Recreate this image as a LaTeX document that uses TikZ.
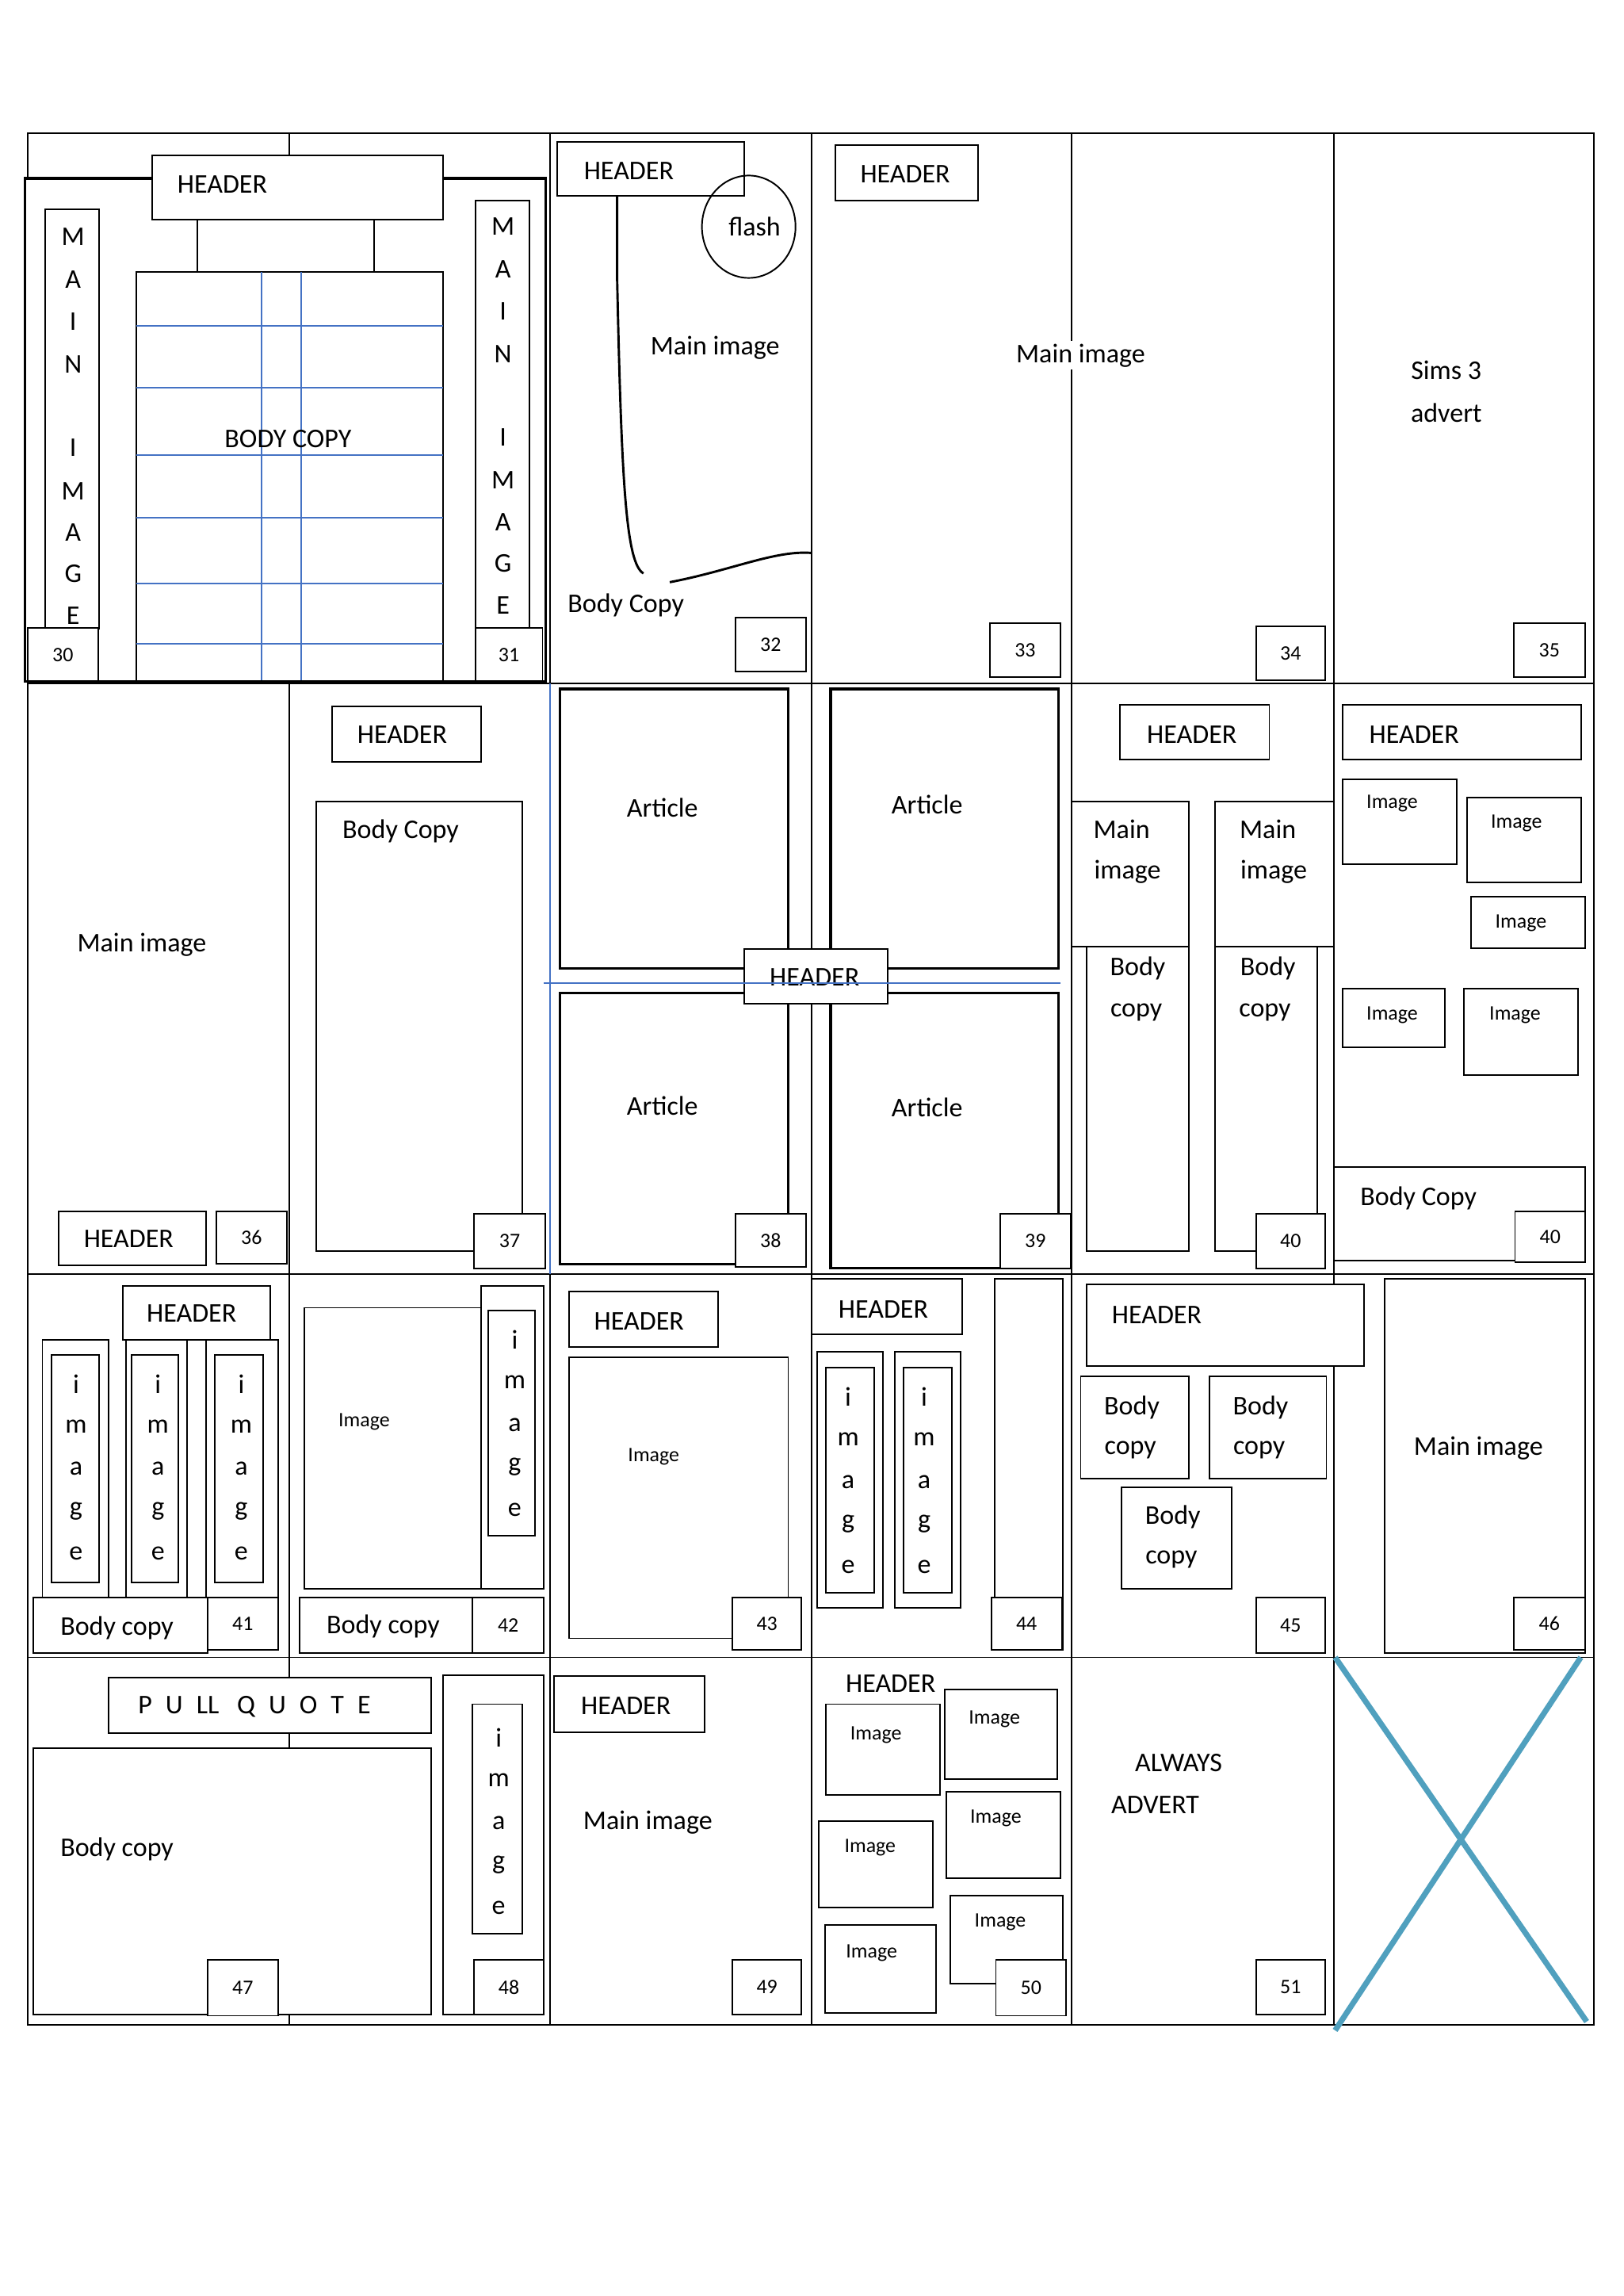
\documentclass[tikz,border=0pt]{standalone}
\usepackage{fontspec}
\setmainfont{Carlito}
\definecolor{xcol}{RGB}{80,160,190}
\definecolor{lcol}{RGB}{68,114,196}
\newcommand\mybox[4]{\draw[fill=white] (#1,#2) rectangle (#3,#4);}
\newcommand\mytxt[3]{\node[txt] at (#1,#2) {#3};}
\newcommand\mysm[3]{\node[sm] at (#1,#2) {#3};}
\newcommand\mynum[5]{\draw[fill=white] (#1,#2) rectangle (#3,#4); \node[sm] at ({(#1+#3)/2},{(#2+#4)/2}) {#5};}
\begin{document}
\begin{tikzpicture}[x=0.02cm,y=-0.02cm,line width=0.6pt,
 txt/.style={font=\fontsize{10.5}{12}\selectfont,inner sep=0pt},
 sm/.style={font=\fontsize{8}{9}\selectfont,inner sep=0pt},
 bl/.style={draw=lcol,line width=0.6pt}]
\useasboundingbox[fill=white] (0,0) rectangle (1110,1569.6);
% grid
\draw (19,91) rectangle (1090,1384);
\foreach \x in {198,376,555,733,912} {\draw (\x,91) -- (\x,1384);}
\foreach \y in {467,871,1133} {\draw (19,\y) -- (1090,\y);}
% ---- page 30-31
\draw[line width=1pt,fill=white] (17,122) rectangle (373,466);
\mybox{104}{106}{303}{150}\mytxt{152}{126}{HEADER}
\draw (135,150)--(135,186) (256,150)--(256,186);
\mybox{93}{186}{303}{466}
\foreach \y in {223,265,311,354,399,440} {\draw[bl] (93,\y)--(303,\y);}
\draw[bl] (179,186)--(179,466) (206,186)--(206,466);
\mytxt{197}{300}{BODY COPY}
\mybox{31}{143}{68}{430}
\foreach \l/\y in {M/162,A/191,I/220,N/249,I/306,M/336,A/364,G/392,E/421} {\mytxt{50}{\y}{\l}}
\mybox{325}{137}{362}{430}
\foreach \l/\y in {M/155,A/184,I/213,N/242,I/299,M/328,A/357,G/385,E/414} {\mytxt{344}{\y}{\l}}
\mynum{19}{429}{67}{466}{30}
\mynum{325}{429}{371}{466}{31}
\draw[line width=1pt] (17,150) -- (17,466) -- (373,466) -- (373,150);
% ---- page 32
\mybox{381}{97}{509}{134}\mytxt{430}{117}{HEADER}
\draw (512,155) ellipse [x radius=32,y radius=35];
\mytxt{516}{155}{flash}
\draw[line width=0.9pt] (422,134) -- (422,190) .. controls (425,330) and (428,385) .. (440,392);
\draw[line width=0.9pt] (458,398) .. controls (500,390) and (530,376) .. (555,378);
\mytxt{489}{238}{Main image}
\mytxt{428}{414}{Body Copy}
\mynum{503}{422}{551}{459}{32}
% ---- 33-35
\mybox{571}{99}{669}{137}\mytxt{619}{119}{HEADER}
\node[txt,fill=white,inner sep=1pt] at (739,243) {Main image};
\mynum{677}{426}{725}{463}{33}
\mynum{859}{428}{906}{465}{34}
\mytxt{989}{253}{Sims 3}\mytxt{989}{282}{advert}
\mynum{1035}{426}{1084}{463}{35}
% ---- row 2
\mytxt{97}{646}{Main image}
\mybox{40}{828}{141}{865}\mytxt{88}{847}{HEADER}
\mynum{148}{828}{196}{864}{36}
\mybox{227}{483}{329}{521}\mytxt{275}{502}{HEADER}
\mybox{216}{548}{357}{855}\mytxt{274}{568}{Body Copy}
\mynum{324}{830}{373}{867}{37}
\draw[line width=1pt,fill=white] (383,471) rectangle (539,662) (568,471) rectangle (724,662)
 (383,679) rectangle (539,864) (568,679) rectangle (724,867);
\mytxt{453}{552}{Article}\mytxt{634}{550}{Article}
\mytxt{453}{756}{Article}\mytxt{634}{757}{Article}
\mybox{509}{649}{607}{686}\mytxt{557}{668}{HEADER}
\draw[bl] (376,467)--(376,871) (372,672)--(725,672);
\mynum{503}{830}{551}{866}{38}
\mynum{684}{830}{732}{867}{39}
\mybox{766}{482}{868}{519}\mytxt{815}{502}{HEADER}
\mybox{733}{548}{813}{647}\mybox{831}{548}{912}{647}
\mytxt{767}{567}{Main}\mytxt{771}{596}{image}
\mytxt{867}{567}{Main}\mytxt{871}{596}{image}
\mybox{743}{647}{813}{855}\mybox{831}{647}{901}{855}
\mytxt{778}{662}{Body}\mytxt{777}{692}{copy}
\mytxt{867}{662}{Body}\mytxt{865}{692}{copy}
\mynum{859}{830}{906}{867}{40}
\mybox{918}{482}{1081}{519}\mytxt{967}{502}{HEADER}
\mybox{918}{533}{996}{591}\mysm{952}{549}{Image}
\mybox{1003}{545}{1081}{603}\mysm{1037}{563}{Image}
\mybox{1006}{613}{1084}{648}\mysm{1040}{631}{Image}
\mybox{918}{676}{988}{716}\mysm{952}{694}{Image}
\mybox{1001}{676}{1079}{735}\mysm{1036}{694}{Image}
\mybox{912}{798}{1084}{862}\mytxt{970}{819}{Body Copy}
\mynum{1036}{828}{1084}{863}{40}
% ---- row 3
\mybox{84}{879}{185}{916}\mytxt{131}{898}{HEADER}
\foreach \a/\b/\c/\d/\m in {29/35/68/74/52,86/90/122/128/108,141/147/180/190/165}{
 \draw[fill=white] (\a,916) rectangle (\d,1092) (\b,926) rectangle (\c,1082);
 \foreach \l/\y in {i/946,m/975,a/1004,g/1033,e/1062} {\mytxt{\m}{\y}{\l}}}
\mybox{23}{1092}{142}{1130}\mytxt{80}{1113}{Body copy}
\mynum{142}{1092}{190}{1128}{41}
\mybox{208}{894}{329}{1086}\mysm{249}{972}{Image}
\mybox{329}{879}{372}{1086}\mybox{334}{896}{366}{1050}
\foreach \l/\y in {i/916,m/945,a/974,g/1003,e/1032} {\mytxt{352}{\y}{\l}}
\mybox{205}{1092}{323}{1130}\mytxt{262}{1112}{Body copy}
\mynum{323}{1092}{372}{1130}{42}
\mybox{389}{883}{491}{921}\mytxt{437}{903}{HEADER}
\mybox{389}{928}{539}{1120}\mysm{447}{996}{Image}
\mynum{501}{1092}{548}{1128}{43}
\mybox{555}{874}{658}{912}\mytxt{604}{895}{HEADER}
\foreach \a/\b/\c/\d/\m in {559/565/598/604/580,612/618/651/657/632}{
 \draw[fill=white] (\a,924) rectangle (\d,1099) (\b,935) rectangle (\c,1089);
 \foreach \l/\y in {i/955,m/984,a/1013,g/1042,e/1071} {\mytxt{\m}{\y}{\l}}}
\mybox{680}{874}{727}{1128}
\mynum{678}{1092}{726}{1128}{44}
\mybox{743}{878}{933}{934}\mytxt{791}{899}{HEADER}
\mybox{739}{941}{813}{1011}\mytxt{774}{962}{Body}\mytxt{773}{991}{copy}
\mybox{827}{941}{907}{1011}\mytxt{862}{962}{Body}\mytxt{861}{991}{copy}
\mybox{767}{1017}{842}{1086}\mytxt{802}{1037}{Body}\mytxt{801}{1066}{copy}
\mynum{859}{1092}{906}{1130}{45}
\mybox{947}{874}{1084}{1130}\mytxt{1011}{990}{Main image}
\mynum{1035}{1092}{1084}{1128}{46}
% ---- row 4
\mybox{74}{1147}{295}{1185}\mytxt{174}{1167}{P\,\,\,U\,\,\,LL\,\,\,\,Q\,\,\,U\,\,\,O\,\,\,T\,\,\,E}
\mybox{23}{1195}{295}{1377}\mytxt{80}{1264}{Body copy}
\mynum{142}{1340}{190}{1378}{47}
\mybox{303}{1145}{372}{1377}\mybox{323}{1165}{357}{1322}
\foreach \l/\y in {i/1188,m/1217,a/1246,g/1275,e/1304} {\mytxt{341}{\y}{\l}}
\mynum{324}{1340}{372}{1377}{48}
\mybox{379}{1146}{482}{1184}\mytxt{428}{1166}{HEADER}
\mytxt{443}{1246}{Main image}
\mynum{501}{1340}{548}{1377}{49}
\mytxt{609}{1151}{HEADER}
\mybox{565}{1165}{643}{1227}\mysm{599}{1186}{Image}
\mybox{646}{1155}{723}{1216}\mysm{680}{1175}{Image}
\mybox{560}{1245}{638}{1304}\mysm{595}{1263}{Image}
\mybox{647}{1225}{725}{1284}\mysm{681}{1243}{Image}
\mybox{564}{1316}{640}{1376}\mysm{596}{1335}{Image}
\mybox{650}{1296}{727}{1356}\mysm{684}{1314}{Image}
\mynum{681}{1340}{729}{1378}{50}
\mytxt{806}{1205}{ALWAYS}\mytxt{790}{1234}{ADVERT}
\mynum{859}{1340}{906}{1377}{51}
\draw[line width=2.2pt,draw=xcol] (913,1388)--(1081,1133) (913,1133)--(1085,1382);
\end{tikzpicture}
\end{document}
